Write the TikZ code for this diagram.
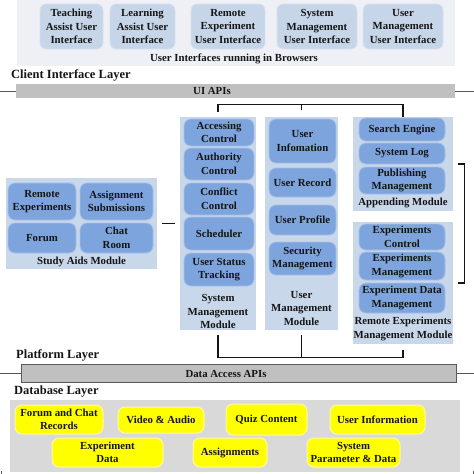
\documentclass[tikz,border=0pt]{standalone}
\usepackage{fontspec}
\setmainfont{Liberation Serif}
\usetikzlibrary{calc}
\definecolor{clientbg}{HTML}{EEF0F6}
\definecolor{uiblue}{HTML}{C6D5E8}
\definecolor{uiedge}{HTML}{D9E3F0}
\definecolor{modbg}{HTML}{C9D7EA}
\definecolor{modblue}{HTML}{7DA4DD}
\definecolor{modedge}{HTML}{A6BFE6}
\definecolor{apigray}{HTML}{C0C0C0}
\definecolor{dbgray}{HTML}{D9D9D9}
\definecolor{ybox}{HTML}{FFFF00}
\definecolor{yedge}{HTML}{FFF6B0}
\definecolor{ink}{HTML}{151515}
\begin{document}
\begin{tikzpicture}[x=1pt,y=-1pt,
  txt/.style={font=\fontsize{10.8}{13.6}\selectfont\bfseries, align=center, inner sep=0pt, text=ink},
  layerlbl/.style={font=\fontsize{12.5}{15}\selectfont\bfseries, anchor=west, inner sep=0pt, text=ink},
  container/.style={fill=modbg, inner sep=0pt},
  uibox/.style={txt, fill=uiblue, draw=uiedge, line width=0.8pt, rounded corners=6pt},
  mbox/.style={txt, fill=modblue, draw=modedge, line width=0.8pt, rounded corners=7pt},
  dbbox/.style={txt, fill=ybox, draw=yedge, line width=1pt, rounded corners=7pt},
  conn/.style={draw=ink, line width=1.1pt},
  layerline/.style={draw=black!65, line width=0.8pt}]
\useasboundingbox (0,0) rectangle (474,474);

% Client interface layer
\node[fill=clientbg, inner sep=0pt, minimum width=438, minimum height=66] (client) at (236,33) {};
\node[uibox, minimum width=63, minimum height=45] (ui1) at (71.5,26.5) {Teaching\\Assist User\\Interface};
\node[uibox, minimum width=65, minimum height=45] (ui2) at (142.5,26.5) {Learning\\Assist User\\Interface};
\node[uibox, minimum width=74, minimum height=45] (ui3) at (228,26.5) {Remote\\Experiment\\User Interface};
\node[uibox, minimum width=80, minimum height=45] (ui4) at (317,26.5) {System\\Management\\User Interface};
\node[uibox, minimum width=80, minimum height=45] (ui5) at (403,26.5) {User\\Management\\User Interface};
\node[txt] (uilbl) at (234,59) {User Interfaces running in Browsers};
\node[layerlbl] (clientlbl) at (11,75) {Client Interface Layer};

% UI APIs
\coordinate (ul0) at (0,91);
\coordinate (ul1) at (474,91);
\node[fill=apigray, inner sep=0pt, minimum width=439, minimum height=14] (uiapi) at (235.5,91) {};
\draw[layerline] (ul0) -- (uiapi.west);
\draw[layerline] (uiapi.east) -- (ul1);
\node[txt] (uiapitxt) at (212,91) {UI APIs};

% Study aids module
\node[container, minimum width=151, minimum height=91] (study) at (81.5,223.5) {};
\node[mbox, minimum width=68, minimum height=37] (remexp) at (42,201.5) {Remote\\Experiments};
\node[mbox, minimum width=73, minimum height=37] (assub) at (116.5,201.5) {Assignment\\Submissions};
\node[mbox, minimum width=68, minimum height=30] (forum) at (42,238) {Forum};
\node[mbox, minimum width=73, minimum height=30] (chat) at (116.5,238) {Chat\\Room};
\node[txt] (studylbl) at (81.5,262) {Study Aids Module};

% System management module
\node[container, minimum width=76, minimum height=213] (sysm) at (218,223.5) {};
\node[mbox, minimum width=70, minimum height=27] (acc) at (219,132.5) {Accessing\\Control};
\node[mbox, minimum width=70, minimum height=32] (auth) at (219,164) {Authority\\Control};
\node[mbox, minimum width=70, minimum height=32] (confl) at (219,199) {Conflict\\Control};
\node[mbox, minimum width=70, minimum height=33] (sched) at (219,233.5) {Scheduler};
\node[mbox, minimum width=70, minimum height=33] (ust) at (219,269.5) {User Status\\Tracking};
\node[txt] (sysmlbl) at (218,311.5) {System\\Management\\Module};

% User management module
\node[container, minimum width=73, minimum height=213] (usrm) at (301.5,223.5) {};
\node[mbox, minimum width=67, minimum height=44] (uinfo) at (302.5,141) {User\\Infomation};
\node[mbox, minimum width=67, minimum height=29] (urec) at (302.5,182.5) {User Record};
\node[mbox, minimum width=67, minimum height=30] (uprof) at (302.5,220) {User Profile};
\node[mbox, minimum width=67, minimum height=33] (secm) at (302.5,258.5) {Security\\Management};
\node[txt] (usrmlbl) at (301.5,308.5) {User\\Management\\Module};

% Appending module
\node[container, minimum width=100, minimum height=94] (appm) at (403,164) {};
\node[mbox, minimum width=86, minimum height=23] (search) at (402,129.5) {Search Engine};
\node[mbox, minimum width=86, minimum height=21] (syslog) at (402,153.5) {System Log};
\node[mbox, minimum width=86, minimum height=27] (publ) at (402,180.5) {Publishing\\Management};
\node[txt] (appmlbl) at (403,203) {Appending Module};

% Remote experiments management module
\node[container, minimum width=100, minimum height=122] (remm) at (403,283) {};
\node[mbox, minimum width=86, minimum height=26] (expc) at (402,237) {Experiments\\Control};
\node[mbox, minimum width=86, minimum height=28] (expm) at (402,266) {Experiments\\Management};
\node[mbox, minimum width=86, minimum height=30] (expd) at (402,298) {Experiment Data\\Management};
\node[txt] (remmlbl) at (403,329) {Remote Experiments\\Management Module};

% Connectors
\draw[conn] ($(sysm.north)+(0,-5)$) -- ++(0,-7) -| (appm.north);
\draw[conn] ($(usrm.north)+(0,-7)$) -- ($(usrm.north)+(0,-12)$);
\draw[conn] ($(study.east)+(5,0)$) -- ($(sysm.west)+(-5,0)$);
\draw[conn] ($(appm.east)+(5,0)$) -- ++(6,0) |- ($(remm.east)+(5,0)$);
\draw[conn] ($(sysm.south)+(0,5)$) -- ++(0,22) -| ($(remm.south)+(0,6)$);
\draw[conn] ($(usrm.south)+(0,5)$) -- ++(0,22);

% Platform layer
\node[layerlbl] (platlbl) at (16,355) {Platform Layer};
\coordinate (dl0) at (0,373);
\coordinate (dl1) at (474,373);
\node[fill=apigray, draw=black!65, line width=0.8pt, inner sep=0pt, minimum width=435, minimum height=18] (dapi) at (238.5,373) {};
\draw[layerline] (dl0) -- (dapi.west);
\draw[layerline] (dapi.east) -- (dl1);
\node[txt] (dapitxt) at (226,374) {Data Access APIs};

% Database layer
\node[layerlbl] (dblbl) at (14,392) {Database Layer};
\node[fill=dbgray, inner sep=0pt, minimum width=450, minimum height=72] (db) at (235,436) {};
\node[dbbox, minimum width=88, minimum height=29] (dbforum) at (59,419.5) {Forum and Chat\\Records};
\node[dbbox, minimum width=86, minimum height=26] (dbvideo) at (161,420) {Video \& Audio};
\node[dbbox, minimum width=81, minimum height=31] (dbquiz) at (266.5,419.5) {Quiz Content};
\node[dbbox, minimum width=95, minimum height=29] (dbuser) at (377.5,419.5) {User Information};
\node[dbbox, minimum width=111, minimum height=29] (dbexp) at (107.5,452.5) {Experiment\\Data};
\node[dbbox, minimum width=74, minimum height=29] (dbassign) at (230,452.5) {Assignments};
\node[dbbox, minimum width=93, minimum height=29] (dbsys) at (353.5,452.5) {System\\Parameter \& Data};

% frame ticks at the bottom corners
\coordinate (fl0) at (1,471);
\coordinate (fl1) at (1,474);
\coordinate (fr0) at (473,471);
\coordinate (fr1) at (473,474);
\draw[layerline] (fl0) -- (fl1);
\draw[layerline] (fr0) -- (fr1);
\end{tikzpicture}
\end{document}
